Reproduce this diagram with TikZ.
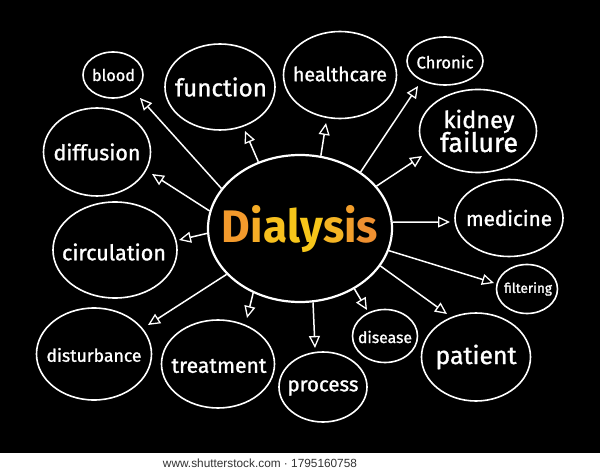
\documentclass[tikz,border=0pt]{standalone}
\usepackage{fontspec}
\setmainfont{Fira Sans}
\newfontfamily\hand{Fira Sans}[FakeBold=1.2]
\newfontfamily\footfont{Liberation Sans}
\usepackage{graphicx}
\usetikzlibrary{shapes.geometric,arrows.meta}
\newcommand\fw[2]{\resizebox{#1pt}{!}{#2}}
\definecolor{dA}{HTML}{F39A2C}
\definecolor{dB}{HTML}{F5AC26}
\definecolor{dC}{HTML}{F7C01E}
\definecolor{dD}{HTML}{F6C61A}
\definecolor{dE}{HTML}{F4B424}
\definecolor{dF}{HTML}{F29E2B}
\definecolor{dG}{HTML}{EF9030}
\definecolor{footgray}{HTML}{333333}
\begin{document}
\begin{tikzpicture}[x=1pt,y=-1pt,
  bub/.style={ellipse, draw=white, line width=1.6pt, inner sep=0pt},
  lbl/.style={text=white, inner sep=0pt, align=center, font=\hand},
  hub/.style={ellipse, draw=white, line width=2.2pt, inner sep=0pt},
  arr/.style={draw=white, line width=1.5pt, -{Triangle[open,length=12pt,width=11pt,line width=1.3pt]}}]
\useasboundingbox (0,0) rectangle (600,473);
\fill[black] (0,0) rectangle (600,453);
\fill[white] (0,453) rectangle (600,473);

% hub
\node[hub, minimum width=184, minimum height=147] (c) at (300,228.5) {};
\node[anchor=base, inner sep=0pt] (dia) at (300,243) {\bfseries\resizebox{156pt}{37pt}{\color{dA}D\color{dB}i\color{dC}a\color{dD}l\color{dD}y\color{dE}s\color{dF}i\color{dG}s}};

% bubbles
\node[bub, minimum width=60, minimum height=46] (blood) at (113,75) {};
\node[bub, minimum width=110, minimum height=86] (function) at (220,87) {};
\node[bub, minimum width=107, minimum height=88] (diffusion) at (97,152) {};
\node[bub, minimum width=113, minimum height=87] (healthcare) at (340,75) {};
\node[bub, minimum width=76, minimum height=48] (chronic) at (445,61) {};
\node[bub, minimum width=117, minimum height=83] (kidney) at (478,131) {};
\node[bub, minimum width=108, minimum height=77] (medicine) at (509,218) {};
\node[bub, minimum width=61, minimum height=49] (filtering) at (527,289) {};
\node[bub, minimum width=109, minimum height=88] (patient) at (476,357) {};
\node[bub, minimum width=65, minimum height=53] (disease) at (385,336) {};
\node[bub, minimum width=88, minimum height=70] (process) at (323,387) {};
\node[bub, minimum width=113, minimum height=88] (treatment) at (218,364) {};
\node[bub, minimum width=115, minimum height=92] (disturbance) at (94,354) {};
\node[bub, minimum width=124, minimum height=96] (circulation) at (115,250) {};

% labels
\node[lbl] (bloodT) at (113.5,75) {\fw{43}{blood}};
\node[lbl] (functionT) at (221,87) {\fw{92}{function}};
\node[lbl] (diffusionT) at (97,152) {\fw{87}{diffusion}};
\node[lbl] (healthcareT) at (340,74) {\fw{94}{healthcare}};
\node[lbl] (chronicT) at (445,62) {\fw{57}{Chronic}};
\node[lbl] (kidneyT) at (479,131) {\fw{71}{kidney}\\[-3pt]\fw{78}{failure}};
\node[lbl] (medicineT) at (509,218) {\fw{86}{medicine}};
\node[lbl] (filteringT) at (528,289) {\fw{48}{filtering}};
\node[lbl] (patientT) at (476,357) {\fw{81}{patient}};
\node[lbl] (diseaseT) at (385,337) {\fw{54}{disease}};
\node[lbl] (processT) at (323,388) {\fw{71}{process}};
\node[lbl] (treatmentT) at (219,366) {\fw{95}{treatment}};
\node[lbl] (disturbanceT) at (94,355) {\fw{95}{disturbance}};
\node[lbl] (circulationT) at (114,252) {\fw{104}{circulation}};

% arrow tips
\coordinate (tBlood) at (140,98);
\coordinate (tDiff) at (152,174);
\coordinate (tFunc) at (245,131);
\coordinate (tHealth) at (326,123);
\coordinate (tChron) at (418,86);
\coordinate (tKid) at (422,156);
\coordinate (tMed) at (450,222);
\coordinate (tFilt) at (494,283);
\coordinate (tPat) at (447,314);
\coordinate (tDis) at (367,310);
\coordinate (tProc) at (315,348);
\coordinate (tTreat) at (247,318);
\coordinate (tDist) at (148,325);
\coordinate (tCirc) at (179,240);

\draw[arr] (c.153) -- (tBlood);
\draw[arr] (c.169) -- (tDiff);
\draw[arr] (c.122) -- (tFunc);
\draw[arr] (c.74) -- (tHealth);
\draw[arr] (c.43) -- (tChron);
\draw[arr] (c.29) -- (tKid);
\draw[arr] (c.4) -- (tMed);
\draw[arr] (c.-14) -- (tFilt);
\draw[arr] (c.-25) -- (tPat);
\draw[arr] (c.-48) -- (tDis);
\draw[arr] (c.-80) -- (tProc);
\draw[arr] (c.-126) -- (tTreat);
\draw[arr] (c.-148) -- (tDist);
\draw[arr] (c.-177) -- (tCirc);

% footer
\node[text=footgray, inner sep=0pt] (foot) at (260,463) {\footfont\fw{194}{www.shutterstock.com · 1795160758}};
\end{tikzpicture}
\end{document}
